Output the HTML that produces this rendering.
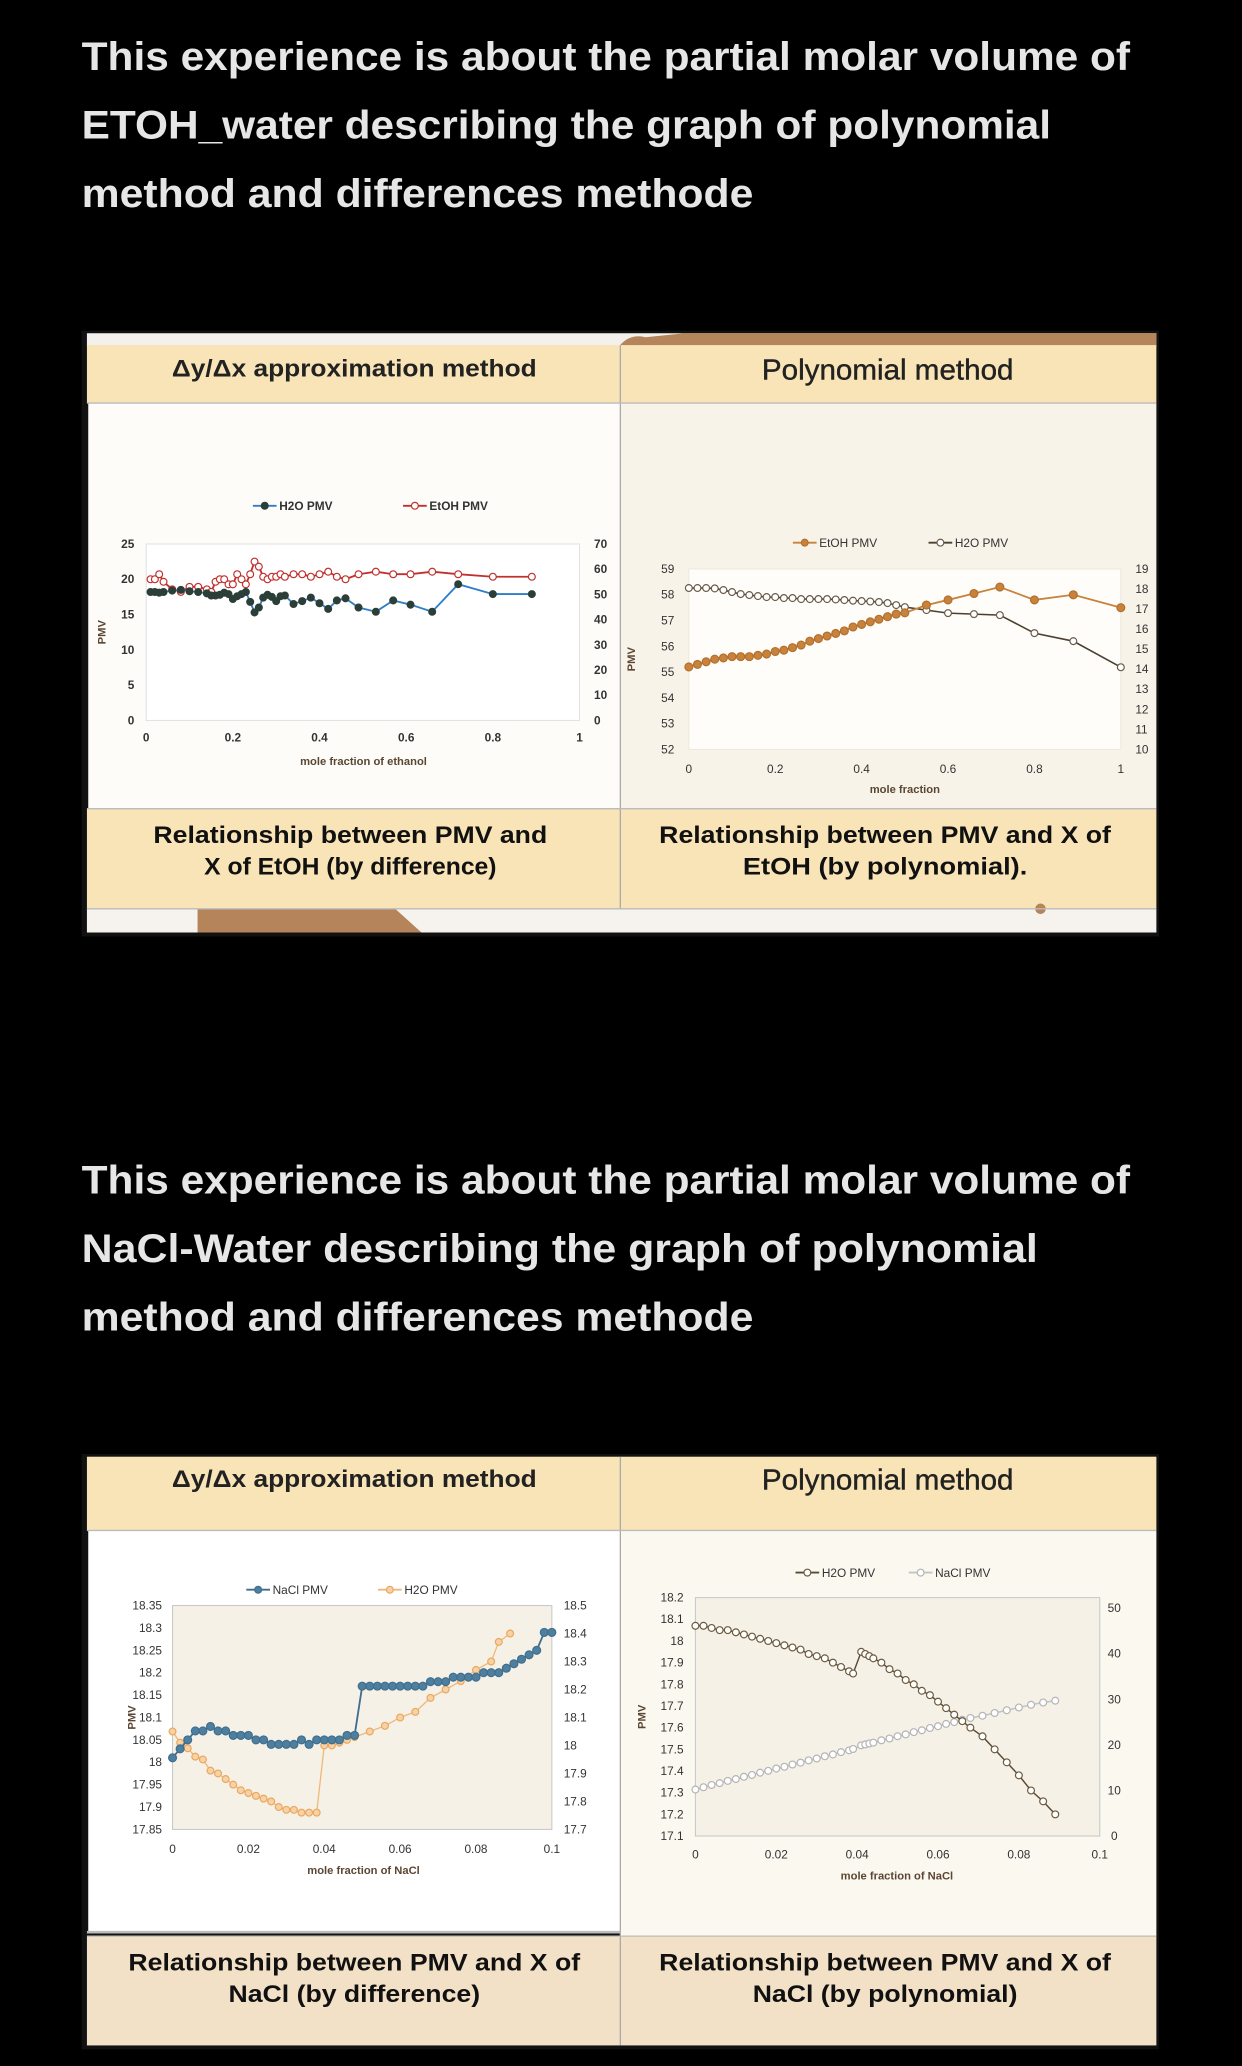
<!DOCTYPE html>
<html><head><meta charset="utf-8"><style>
html,body{margin:0;padding:0;background:#000;width:1242px;height:2066px;overflow:hidden}
svg{display:block}
text{font-family:"Liberation Sans",Arial,sans-serif}
</style></head><body>
<svg id="root" width="1242" height="2066" viewBox="0 0 943 1568.6" xmlns="http://www.w3.org/2000/svg">
<rect x="0" y="0" width="943" height="1569" fill="#000"/>
<g fill="#e6e6e6" font-size="30" font-weight="bold">
<text x="62" y="53" textLength="796" lengthAdjust="spacingAndGlyphs">This experience is about the partial molar volume of</text>
<text x="62" y="105" textLength="736" lengthAdjust="spacingAndGlyphs">ETOH_water describing the graph of polynomial</text>
<text x="62" y="157" textLength="510" lengthAdjust="spacingAndGlyphs">method and differences methode</text>
</g>
<g fill="#e6e6e6" font-size="30" font-weight="bold">
<text x="62" y="906" textLength="796" lengthAdjust="spacingAndGlyphs">This experience is about the partial molar volume of</text>
<text x="62" y="958" textLength="726" lengthAdjust="spacingAndGlyphs">NaCl-Water describing the graph of polynomial</text>
<text x="62" y="1010" textLength="510" lengthAdjust="spacingAndGlyphs">method and differences methode</text>
</g>

<!-- Panel 1 -->
<g>
<rect x="62" y="251" width="818" height="460" fill="#111"/>
<rect x="66" y="253" width="812" height="10" fill="#f4f1ec"/>
<path d="M470 263 Q478 253 490 256 L520 253 L878 253 L878 263 Z" fill="#b5845a"/>
<rect x="66" y="262" width="812" height="44" fill="#f8e4b6"/>
<rect x="67" y="306" width="404" height="308" fill="#fdfcf8"/>
<rect x="471" y="306" width="407" height="308" fill="#f8f3e9"/>
<rect x="66" y="614" width="812" height="76" fill="#f8e4b6"/>
<rect x="66" y="690" width="812" height="18" fill="#f6f3ee"/>
<path d="M150 690 L300 690 L320 708 L150 708 Z" fill="#b5845a"/>
<circle cx="790" cy="690" r="4" fill="#b5845a"/>
<line x1="471" y1="262" x2="471" y2="690" stroke="#aaa" stroke-width="1"/>
<line x1="66" y1="306" x2="878" y2="306" stroke="#bbb"/>
<line x1="66" y1="614" x2="878" y2="614" stroke="#bbb"/>
<line x1="66" y1="690" x2="878" y2="690" stroke="#bbb"/>
<text x="269" y="286" font-size="18" font-weight="bold" text-anchor="middle" fill="#222" textLength="277" lengthAdjust="spacingAndGlyphs">Δy/Δx approximation method</text>
<text x="674" y="288" font-size="22" text-anchor="middle" fill="#222" stroke="#222" stroke-width="0.3" textLength="191" lengthAdjust="spacingAndGlyphs">Polynomial method</text>
<g font-size="18.5" font-weight="bold" fill="#111" text-anchor="middle">
<text x="266" y="640" textLength="299" lengthAdjust="spacingAndGlyphs">Relationship between PMV and</text>
<text x="266" y="664" textLength="222" lengthAdjust="spacingAndGlyphs">X of EtOH (by difference)</text>
<text x="672" y="640" textLength="343" lengthAdjust="spacingAndGlyphs">Relationship between PMV and X of</text>
<text x="672" y="664" textLength="216" lengthAdjust="spacingAndGlyphs">EtOH (by polynomial).</text>
</g>
</g>

<!-- Panel 2 -->
<g>
<rect x="62" y="1104" width="818" height="452" fill="#111"/>
<rect x="66" y="1106" width="812" height="56" fill="#f8e4b6"/>
<rect x="67" y="1162" width="404" height="305" fill="#ffffff"/>
<rect x="471" y="1162" width="407" height="308" fill="#fbf8f0"/>
<rect x="66" y="1470" width="812" height="83" fill="#f2e1c6"/>
<line x1="471" y1="1106" x2="471" y2="1553" stroke="#aaa"/>
<line x1="66" y1="1162" x2="878" y2="1162" stroke="#bbb"/>
<line x1="66" y1="1467" x2="471" y2="1467" stroke="#bbb" stroke-width="2"/>
<line x1="66" y1="1470" x2="878" y2="1470" stroke="#bbb"/>
<text x="269" y="1129" font-size="18" font-weight="bold" text-anchor="middle" fill="#222" textLength="277" lengthAdjust="spacingAndGlyphs">Δy/Δx approximation method</text>
<text x="674" y="1131" font-size="22" text-anchor="middle" fill="#222" stroke="#222" stroke-width="0.3" textLength="191" lengthAdjust="spacingAndGlyphs">Polynomial method</text>
<g font-size="18.5" font-weight="bold" fill="#111" text-anchor="middle">
<text x="269" y="1496" textLength="343" lengthAdjust="spacingAndGlyphs">Relationship between PMV and X of</text>
<text x="269" y="1520" textLength="191" lengthAdjust="spacingAndGlyphs">NaCl (by difference)</text>
<text x="672" y="1496" textLength="343" lengthAdjust="spacingAndGlyphs">Relationship between PMV and X of</text>
<text x="672" y="1520" textLength="201" lengthAdjust="spacingAndGlyphs">NaCl (by polynomial)</text>
</g>
</g>
<g id="charts"></g>
</svg>
<script>
const NS="http://www.w3.org/2000/svg";
// Chart 1: EtOH by difference
const c1X=[0.01,0.02,0.03,0.04,0.06,0.08,0.1,0.12,0.14,0.15,0.16,0.17,0.18,0.19,0.2,0.21,0.22,0.23,0.24,0.25,0.26,0.27,0.28,0.29,0.3,0.31,0.32,0.34,0.36,0.38,0.40,0.42,0.44,0.46,0.49,0.53,0.57,0.61,0.66,0.72,0.8,0.89];
const c1H2O=[18.2,18.2,18.1,18.2,18.4,18.5,18.3,18.2,18.0,17.7,17.7,17.8,18.1,17.9,17.2,17.6,17.9,18.2,16.8,15.3,16.0,17.4,17.8,17.5,16.9,17.6,17.7,16.5,16.9,17.4,16.6,15.8,17.0,17.3,16.0,15.4,17.0,16.4,15.4,19.3,17.9,17.9];
const c1EtOH=[56,56,58,55,52,51,53,53,52,51,55,56,56,54,54,58,56,54,58,63,61,57,56,57,57,58,57,58,58,57,58,59,57,56,58,59,58,58,59,58,57,57];
const c1LeftTicks=[0,5,10,15,20,25];
const c1RightTicks=[0,10,20,30,40,50,60,70];
const c1XTicks=[0,0.2,0.4,0.6,0.8,1];
// Chart 2: EtOH by polynomial
const c2X=[0,0.02,0.04,0.06,0.08,0.1,0.12,0.14,0.16,0.18,0.2,0.22,0.24,0.26,0.28,0.3,0.32,0.34,0.36,0.38,0.4,0.42,0.44,0.46,0.48,0.5,0.55,0.6,0.66,0.72,0.8,0.89,1.0];
const c2EtOH=[55.2,55.3,55.4,55.5,55.55,55.6,55.6,55.6,55.65,55.7,55.8,55.85,55.95,56.05,56.2,56.3,56.4,56.5,56.6,56.75,56.85,56.95,57.05,57.15,57.25,57.3,57.6,57.8,58.05,58.3,57.8,58.0,57.5];
const c2H2O=[18.05,18.05,18.05,18.03,17.95,17.85,17.75,17.7,17.65,17.6,17.6,17.55,17.55,17.5,17.5,17.5,17.5,17.48,17.45,17.42,17.4,17.38,17.35,17.3,17.2,17.1,16.95,16.8,16.75,16.7,15.8,15.4,14.1];
const c2LeftTicks=[52,53,54,55,56,57,58,59];
const c2RightTicks=[10,11,12,13,14,15,16,17,18,19];
const c2XTicks=[0,0.2,0.4,0.6,0.8,1];
// Chart 3: NaCl by difference
const c3NaClX=[0,0.002,0.004,0.006,0.008,0.010,0.012,0.014,0.016,0.018,0.020,0.022,0.024,0.026,0.028,0.030,0.032,0.034,0.036,0.038,0.040,0.042,0.044,0.046,0.048,0.050,0.052,0.054,0.056,0.058,0.060,0.062,0.064,0.066,0.068,0.070,0.072,0.074,0.076,0.078,0.080,0.082,0.084,0.086,0.088,0.090,0.092,0.094,0.096,0.098,0.100];
const c3NaCl=[18.01,18.03,18.05,18.07,18.07,18.08,18.07,18.07,18.06,18.06,18.06,18.05,18.05,18.04,18.04,18.04,18.04,18.05,18.04,18.05,18.05,18.05,18.05,18.06,18.06,18.17,18.17,18.17,18.17,18.17,18.17,18.17,18.17,18.17,18.18,18.18,18.18,18.19,18.19,18.19,18.19,18.20,18.20,18.20,18.21,18.22,18.23,18.24,18.25,18.29,18.29];
const c3H2OX=[0,0.002,0.004,0.006,0.008,0.010,0.012,0.014,0.016,0.018,0.020,0.022,0.024,0.026,0.028,0.030,0.032,0.034,0.036,0.038,0.040,0.042,0.044,0.046,0.048,0.052,0.056,0.060,0.064,0.068,0.072,0.076,0.080,0.084,0.086,0.089];
const c3H2O=[18.05,18.01,17.99,17.96,17.95,17.91,17.90,17.88,17.86,17.84,17.83,17.82,17.81,17.80,17.78,17.77,17.77,17.76,17.76,17.76,18.0,18.0,18.01,18.02,18.03,18.05,18.07,18.10,18.12,18.17,18.2,18.23,18.27,18.3,18.37,18.40];
const c3LeftTicks=[17.85,17.9,17.95,18,18.05,18.1,18.15,18.2,18.25,18.3,18.35];
const c3RightTicks=[17.7,17.8,17.9,18,18.1,18.2,18.3,18.4,18.5];
const c3XTicks=[0,0.02,0.04,0.06,0.08,0.1];
// Chart 4: NaCl by polynomial
const c4X=[0,0.002,0.004,0.006,0.008,0.01,0.012,0.014,0.016,0.018,0.02,0.022,0.024,0.026,0.028,0.03,0.032,0.034,0.036,0.038,0.039,0.041,0.042,0.043,0.044,0.046,0.048,0.05,0.052,0.054,0.056,0.058,0.06,0.062,0.064,0.066,0.068,0.071,0.074,0.077,0.08,0.083,0.086,0.089];
const c4H2O=[18.07,18.07,18.06,18.05,18.05,18.04,18.03,18.02,18.01,18.0,17.99,17.98,17.97,17.96,17.94,17.93,17.92,17.9,17.88,17.86,17.85,17.95,17.94,17.93,17.92,17.9,17.87,17.85,17.82,17.8,17.77,17.75,17.72,17.69,17.66,17.63,17.6,17.56,17.5,17.44,17.38,17.31,17.26,17.2];
const c4NaCl=[10.2,10.7,11.2,11.6,12.1,12.5,13.0,13.4,13.9,14.3,14.8,15.2,15.7,16.1,16.6,17.0,17.5,17.9,18.4,18.8,19.1,19.9,20.1,20.3,20.5,21.0,21.4,21.9,22.3,22.8,23.2,23.7,24.1,24.6,25.0,25.5,25.9,26.4,27.0,27.6,28.2,28.8,29.3,29.7];
const c4LeftTicks=[17.1,17.2,17.3,17.4,17.5,17.6,17.7,17.8,17.9,18,18.1,18.2];
const c4RightTicks=[0,10,20,30,40,50];
const c4XTicks=[0,0.02,0.04,0.06,0.08,0.1];

const root=document.getElementById('charts');
function el(tag,attrs,parent){const e=document.createElementNS(NS,tag);for(const k in attrs)e.setAttribute(k,attrs[k]);parent.appendChild(e);return e;}
function scale(d0,d1,r0,r1){return v=>r0+(v-d0)/(d1-d0)*(r1-r0);}

function chart(cfg){
  const g=el('g',{},root);
  
  
  const p=cfg.plot;
  const xs=scale(cfg.xd[0],cfg.xd[1],p.x0,p.x1);
  const yl=scale(cfg.ld[0],cfg.ld[1],p.y1,p.y0);
  const yr=scale(cfg.rd[0],cfg.rd[1],p.y1+cfg.rOff1,p.y0+cfg.rOff0);
  const bg=el('rect',{x:p.x0,y:p.y0,width:p.x1-p.x0,height:p.y1-p.y0,fill:cfg.plotFill,stroke:cfg.plotStroke,'stroke-width':0.8},g);
  
  
  const fs=cfg.fs||9;
  cfg.lt.forEach(t=>{const tx=el('text',{x:p.x0-cfg.lpad,y:yl(t)+3,'font-size':fs,'font-weight':cfg.bold?'bold':'normal','text-anchor':'end',fill:'#333'},g);tx.textContent=cfg.fmt(t);
    
    });
  cfg.rt.forEach(t=>{const tx=el('text',{x:cfg.rx,y:yr(t)+3,'font-size':fs,'font-weight':cfg.bold?'bold':'normal','text-anchor':cfg.ranchor||'start',fill:'#333'},g);tx.textContent=cfg.fmt(t);
    
    });
  cfg.xt.forEach(t=>{const tx=el('text',{x:xs(t),y:cfg.xy,'font-size':fs,'font-weight':cfg.bold?'bold':'normal','text-anchor':'middle',fill:'#333'},g);tx.textContent=String(t);
    
    });
  const xt=el('text',{x:cfg.xtx,y:cfg.xty,'font-size':8.5,'font-weight':'bold','text-anchor':'middle',fill:'#5a4632'},g);xt.textContent=cfg.xtitle;
  
  
  const yt=el('text',{x:0,y:0,'font-size':8.5,'font-weight':'bold','text-anchor':'middle',fill:'#5a4632',transform:`translate(${cfg.ytx},${(p.y0+p.y1)/2}) rotate(-90)`},g);yt.textContent='PMV';
  
  
  cfg.series.forEach(s=>{
    const sy=s.axis==='l'?yl:yr;
    const pts=s.x.map((xv,i)=>xs(xv)+','+sy(s.y[i])).join(' ');
    const ln=el('polyline',{points:pts,fill:'none',stroke:s.line,'stroke-width':s.lw||1.4},g);
    
    
    s.x.forEach((xv,i)=>{const c=el('circle',{cx:xs(xv),cy:sy(s.y[i]),r:s.r||2.6,fill:s.fill,stroke:s.stroke,'stroke-width':0.9},g);
      
      });
  });
  cfg.legend.forEach(L=>{
    const lg=el('g',{},g);
    
    
    el('line',{x1:L.x,y1:cfg.ly,x2:L.x+18,y2:cfg.ly,stroke:L.line,'stroke-width':1.4},lg);
    el('circle',{cx:L.x+9,cy:cfg.ly,r:2.6,fill:L.fill,stroke:L.stroke,'stroke-width':0.9},lg);
    const t=el('text',{x:L.x+20,y:cfg.ly+3.2,'font-size':9,'font-weight':cfg.bold?'bold':'normal',fill:'#333'},lg);t.textContent=L.label;
  });
}

chart({name:'chart-etoh-difference',plot:{x0:111,x1:440,y0:413,y1:547},xd:[0,1],ld:[0,25],rd:[0,70],rOff0:0,rOff1:0,
  plotFill:'#ffffff',plotStroke:'#e2e2e2',lt:c1LeftTicks,rt:c1RightTicks,xt:c1XTicks,fmt:v=>String(v),lpad:9,rx:451,xy:563,bold:true,
  xtitle:'mole fraction of ethanol',xtx:276,xty:581,ytx:80,ly:384,
  series:[{name:'etoh-pmv',x:c1X,y:c1EtOH,axis:'r',line:'#c0312e',fill:'#fff',stroke:'#c0312e'},
          {name:'h2o-pmv',x:c1X,y:c1H2O,axis:'l',line:'#2f7fc8',fill:'#2c3e38',stroke:'#2c3e38'}],
  legend:[{x:192,label:'H2O PMV',line:'#2f7fc8',fill:'#2c3e38',stroke:'#2c3e38'},{x:306,label:'EtOH PMV',line:'#c0312e',fill:'#fff',stroke:'#c0312e'}]});

chart({name:'chart-etoh-polynomial',plot:{x0:523,x1:851,y0:432,y1:569},xd:[0,1],ld:[52,59],rd:[10,19],rOff0:0,rOff1:0,
  plotFill:'#fffdf9',plotStroke:'#eee8dd',lt:c2LeftTicks,rt:c2RightTicks,xt:c2XTicks,fmt:v=>String(v),lpad:11,rx:862,xy:587,bold:false,
  xtitle:'mole fraction',xtx:687,xty:602,ytx:482,ly:412,
  series:[{name:'h2o-pmv',x:c2X,y:c2H2O,axis:'r',line:'#4a4030',fill:'#fff',stroke:'#6a5a48',lw:1.2},
          {name:'etoh-pmv',x:c2X,y:c2EtOH,axis:'l',line:'#c8823c',fill:'#c8823c',stroke:'#b0702e',r:3}],
  legend:[{x:602,label:'EtOH PMV',line:'#c8823c',fill:'#c8823c',stroke:'#b0702e'},{x:705,label:'H2O PMV',line:'#4a4030',fill:'#fff',stroke:'#6a5a48'}]});

chart({name:'chart-nacl-difference',plot:{x0:131,x1:419,y0:1219,y1:1389},xd:[0,0.1],ld:[17.85,18.35],rd:[17.7,18.5],rOff0:0,rOff1:0,
  plotFill:'#f6f1e7',plotStroke:'#c8c8c8',lt:c3LeftTicks,rt:c3RightTicks,xt:c3XTicks,fmt:v=>String(v),lpad:8,rx:428,xy:1407,bold:false,
  xtitle:'mole fraction of NaCl',xtx:276,xty:1423,ytx:103,ly:1207,
  series:[{name:'h2o-pmv',x:c3H2OX,y:c3H2O,axis:'r',line:'#f0b878',fill:'#f8d2a4',stroke:'#e8a860',lw:1},
          {name:'nacl-pmv',x:c3NaClX,y:c3NaCl,axis:'l',line:'#3f6e8e',fill:'#4f7f9e',stroke:'#3f6e8e',r:3}],
  legend:[{x:187,label:'NaCl PMV',line:'#3f6e8e',fill:'#4f7f9e',stroke:'#3f6e8e'},{x:287,label:'H2O PMV',line:'#f0b878',fill:'#f8d2a4',stroke:'#e8a860'}]});

chart({name:'chart-nacl-polynomial',plot:{x0:528,x1:835,y0:1213,y1:1394},xd:[0,0.1],ld:[17.1,18.2],rd:[0,50],rOff0:8,rOff1:0,
  plotFill:'#f6f1e7',plotStroke:'#c8c8c8',lt:c4LeftTicks,rt:c4RightTicks,xt:c4XTicks,fmt:v=>String(v),lpad:9,rx:846,ranchor:'middle',xy:1411,bold:false,
  xtitle:'mole fraction of NaCl',xtx:681,xty:1427,ytx:490,ly:1194,
  series:[{name:'nacl-pmv',x:c4X,y:c4NaCl,axis:'r',line:'#c4c4c4',fill:'#fff',stroke:'#b4b4b4',lw:1.2},
          {name:'h2o-pmv',x:c4X,y:c4H2O,axis:'l',line:'#5a4a32',fill:'#fff',stroke:'#6b5a3e',lw:1.1}],
  legend:[{x:604,label:'H2O PMV',line:'#5a4a32',fill:'#fff',stroke:'#6b5a3e'},{x:690,label:'NaCl PMV',line:'#c4c4c4',fill:'#fff',stroke:'#b4b4b4'}]});
</script>
</body></html>
